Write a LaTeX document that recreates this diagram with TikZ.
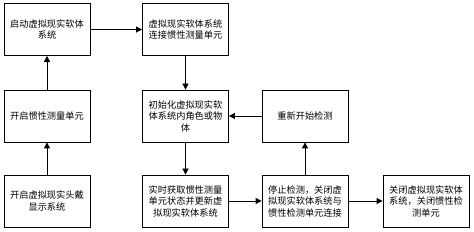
\documentclass[tikz,border=0pt]{standalone}
\usepackage{fontspec}
\setmainfont{Noto Sans CJK SC}
\usetikzlibrary{arrows.meta}

\begin{document}
\begin{tikzpicture}[x=1pt, y=-1pt,
    stepbox/.style={draw, thick, minimum width=86pt, minimum height=52pt,
      align=center, font=\fontsize{9.2}{11.5}\selectfont, inner sep=2pt},
    flow/.style={-{Triangle[length=6pt,width=6pt]}, thick}]
  \useasboundingbox (0,0) rectangle (474,232);

  \node[stepbox] (start) at (47,29.5)   {启动虚拟现实软体\\系统};
  \node[stepbox] (link)  at (185.5,29.5) {虚拟现实软体系统\\连接惯性测量单元};
  \node[stepbox] (imu)   at (47,116)    {开启惯性测量单元};
  \node[stepbox] (hmd)   at (47,201)    {开启虚拟现实头戴\\显示系统};
  \node[stepbox] (init)  at (185.5,116) {初始化虚拟现实软\\体系统内角色或物\\体};
  \node[stepbox] (fetch) at (185.5,201) {实时获取惯性测量\\单元状态并更新虚\\拟现实软体系统};
  \node[stepbox] (again) at (305,116)   {重新开始检测};
  \node[stepbox] (stop)  at (305,201)   {停止检测，关闭虚\\拟现实软体系统与\\惯性检测单元连接};
  \node[stepbox] (close) at (426,201)   {关闭虚拟现实软体\\系统，关闭惯性检\\测单元};

  \draw[flow] (hmd)   -- (imu);
  \draw[flow] (imu)   -- (start);
  \draw[flow] (start) -- (link);
  \draw[flow] (link)  -- (init);
  \draw[flow] (init)  -- (fetch);
  \draw[flow] (fetch) -- (stop);
  \draw[flow] (stop)  -- (again);
  \draw[flow] (again) -- (init);
  \draw[flow] (stop)  -- (close);
\end{tikzpicture}
\end{document}
